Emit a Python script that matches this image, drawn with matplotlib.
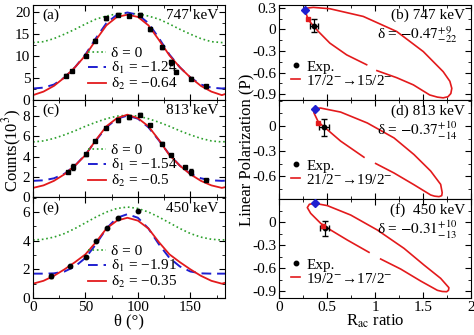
import matplotlib
matplotlib.use("Agg")
import matplotlib.pyplot as plt
from matplotlib.lines import Line2D
from matplotlib.ticker import MultipleLocator, FixedLocator

plt.rcParams['font.family'] = ['Liberation Serif', 'DejaVu Serif']
plt.rcParams['mathtext.fontset'] = 'stix'
plt.rcParams['font.size'] = 11

# ---------- angular distributions (left column) ----------
theta_fit = [0, 10, 20, 30, 40, 50, 60, 70, 80, 90, 100, 110, 120, 130, 140, 150, 160, 170, 180, 190]

theta_a = [31.8, 37.6, 50.2, 58.8, 70.0, 81.0, 91.5, 101.7, 111.2, 123.4, 131.9, 136.7, 151.0, 165.3]
counts_a = [5.5, 6.6, 10.0, 13.4, 18.5, 19.3, 19.1, 19.3, 16.0, 11.9, 8.5, 6.4, 4.8, 3.1]
err_a = [0.3, 0.3, 0.3, 0.3, 0.3, 0.3, 0.3, 0.3, 0.3, 0.3, 0.6, 0.3, 0.3, 0.3]
d0_a = [13.0, 13.2, 13.9, 14.9, 16.0, 17.2, 18.3, 19.0, 19.5, 19.6, 19.5, 19.0, 18.3, 17.2, 16.0, 14.9, 13.9, 13.2, 13.0, 13.2]
d1_a = [2.6, 2.8, 3.5, 5.1, 7.4, 10.3, 14.0, 17.4, 19.3, 19.8, 19.3, 17.4, 14.0, 10.3, 7.4, 5.1, 3.5, 2.8, 2.6, 2.8]
d2_a = [1.1, 1.9, 3.2, 5.1, 7.4, 10.1, 13.6, 16.9, 18.8, 19.3, 18.8, 16.9, 13.6, 10.1, 7.4, 5.1, 3.2, 1.9, 1.1, 1.9]

theta_c = [33.4, 38.1, 50.2, 58.8, 70.0, 81.0, 91.5, 101.7, 111.2, 123.4, 131.9, 144.6, 151.0, 165.3]
counts_c = [2.5, 2.95, 4.25, 5.5, 6.85, 7.6, 7.9, 8.15, 7.1, 5.25, 4.2, 2.95, 2.45, 1.65]
err_c = [0.1, 0.3, 0.15, 0.1, 0.1, 0.15, 0.15, 0.15, 0.1, 0.15, 0.1, 0.1, 0.3, 0.1]
d0_c = [5.45, 5.55, 5.8, 6.15, 6.55, 7.0, 7.4, 7.75, 8.0, 8.1, 8.0, 7.75, 7.4, 7.0, 6.55, 6.15, 5.8, 5.55, 5.45, 5.55]
d1_c = [1.6, 1.65, 1.85, 2.3, 3.1, 4.2, 5.6, 6.9, 7.75, 8.05, 7.75, 6.9, 5.6, 4.2, 3.1, 2.3, 1.85, 1.65, 1.6, 1.65]
d2_c = [0.9, 1.15, 1.6, 2.25, 3.1, 4.15, 5.65, 7.0, 7.8, 8.15, 7.8, 7.0, 5.65, 4.15, 3.1, 2.25, 1.6, 1.15, 0.9, 1.15]

theta_e = [17.5, 35.0, 50.9, 60.4, 70.5, 81.0, 100.1]
counts_e = [1.55, 2.2, 2.85, 4.0, 4.87, 5.57, 6.08]
err_e = [0.15, 0.05, 0.05, 0.05, 0.05, 0.05, 0.05]
d0_e = [4.05, 4.1, 4.25, 4.5, 4.85, 5.25, 5.65, 6.0, 6.25, 6.35, 6.25, 6.0, 5.65, 5.25, 4.85, 4.5, 4.25, 4.1, 4.05, 4.1]
d1_e = [1.7, 1.7, 1.72, 1.85, 2.2, 2.8, 3.75, 4.85, 5.6, 5.85, 5.6, 4.85, 3.75, 2.8, 2.2, 1.85, 1.72, 1.7, 1.7, 1.7]
d2_e = [1.0, 1.2, 1.55, 2.0, 2.5, 3.05, 3.9, 4.85, 5.4, 5.6, 5.4, 4.85, 3.9, 3.05, 2.5, 2.0, 1.55, 1.2, 1.0, 1.2]

# ---------- polarization vs R_ac (right column) ----------
R_b = [0.913, 0.705, 0.53, 0.41, 0.32, 0.30, 0.27, 0.30, 0.357, 0.53, 0.878, 1.226, 1.503, 1.71, 1.78, 1.80, 1.79, 1.76, 1.71, 1.65, 1.57, 1.40, 1.226, 1.02]
P_b = [-0.49, -0.353, -0.19, -0.028, 0.11, 0.15, 0.274, 0.298, 0.307, 0.288, 0.181, -0.028, -0.307, -0.586, -0.72, -0.818, -0.89, -0.935, -0.95, -0.94, -0.91, -0.77, -0.67, -0.572]
R_d = [0.885, 0.642, 0.503, 0.41, 0.365, 0.358, 0.434, 0.642, 0.92, 1.198, 1.406, 1.58, 1.684, 1.70, 1.695, 1.667, 1.62, 1.58, 1.406, 1.198, 1.007]
P_d = [-0.372, -0.18, -0.043, 0.047, 0.154, 0.206, 0.214, 0.166, 0.036, -0.142, -0.34, -0.537, -0.696, -0.795, -0.83, -0.842, -0.836, -0.822, -0.70, -0.56, -0.447]
R_f = [0.9375, 0.712, 0.538, 0.434, 0.33, 0.295, 0.316, 0.372, 0.503, 0.747, 1.024, 1.302, 1.51, 1.684, 1.77, 1.765, 1.747, 1.70, 1.65, 1.476, 1.268, 1.059]
P_f = [-0.395, -0.235, -0.104, -0.017, 0.113, 0.188, 0.231, 0.244, 0.214, 0.091, -0.104, -0.343, -0.56, -0.734, -0.856, -0.89, -0.908, -0.905, -0.89, -0.769, -0.613, -0.482]

# delta=0 point (blue), best delta (red), experiment
blue_pts = [(0.27, 0.274), (0.37, 0.205), (0.372, 0.244)]
red_pts = [(0.30, 0.15), (0.41, 0.036), (0.46, -0.047)]
exp_R = [0.365, 0.47, 0.476]
exp_P = [0.05, -0.016, -0.082]
exp_Rerr = [0.045, 0.05, 0.05]
exp_Perr = [0.09, 0.1, 0.1]

W, H = 474, 335
fig = plt.figure(figsize=(W / 100, H / 100), dpi=100)


def px_axes(x0, y0, x1, y1):
    return fig.add_axes([x0 / W, 1 - y1 / H, (x1 - x0) / W, (y1 - y0) / H])


def style(ax):
    ax.tick_params(direction='in', which='both', top=True, right=True, labelsize=11, pad=2)
    ax.tick_params(which='major', length=4)
    ax.tick_params(which='minor', length=2)


left_boxes = [(33, 5, 225, 100), (33, 100, 225, 197), (33, 197, 225, 298)]
right_boxes = [(279, 5, 471, 100), (279, 100, 471, 199), (279, 199, 471, 298)]

left_data = [
    (theta_a, counts_a, err_a, d0_a, d1_a, d2_a, 21.5, 5, '(a)', '747 keV', '−1.24', '−0.64', 's'),
    (theta_c, counts_c, err_c, d0_c, d1_c, d2_c, 9.6, 2, '(c)', '813 keV', '−1.54', '−0.5', 's'),
    (theta_e, counts_e, err_e, d0_e, d1_e, d2_e, 7.05, 2, '(e)', '450 keV', '−1.91', '−0.35', 'o'),
]

left_axes = []
for box, (th, cnt, er, d0, d1, d2, ytop, ystep, tag, energy, dl1, dl2, mk) in zip(left_boxes, left_data):
    ax = px_axes(*box)
    l0, = ax.plot(theta_fit, d0, color='#2ca02c', ls=':', lw=1.2)
    l1, = ax.plot(theta_fit, d1, color='#1f1fd0', ls=(0, (5, 3)), lw=1.4)
    l2, = ax.plot(theta_fit, d2, color='#e31a1c', ls='-', lw=1.3)
    ax.errorbar(th, cnt, yerr=er, fmt=mk, ms=3.2, color='black', ecolor='black',
                elinewidth=0.8, capsize=1.5, zorder=5)
    ax.set_xlim(0, 183)
    ax.set_ylim(0, ytop)
    ax.xaxis.set_major_locator(MultipleLocator(50))
    ax.xaxis.set_minor_locator(MultipleLocator(25))
    ax.yaxis.set_major_locator(MultipleLocator(ystep))
    ax.yaxis.set_minor_locator(MultipleLocator(ystep / 2))
    style(ax)
    ax.text(0.05, 0.89, tag, transform=ax.transAxes, ha='left', va='center', fontsize=11)
    ax.text(0.965, 0.89, energy, transform=ax.transAxes, ha='right', va='center', fontsize=11)
    ax.legend([l0, l1, l2], ['δ = 0', 'δ$_1$ = ' + dl1, 'δ$_2$ = ' + dl2],
              loc='lower left', bbox_to_anchor=(0.23, -0.03), frameon=False,
              handlelength=1.2, handletextpad=0.3, labelspacing=0.0,
              borderpad=0.2, fontsize=11)
    left_axes.append(ax)

for ax in left_axes[:2]:
    ax.tick_params(labelbottom=False)
left_axes[2].set_xlabel('θ (°)', fontsize=12, labelpad=0)
fig.text(12 / W, 1 - 150 / H, 'Counts(10$^3$)', rotation=90, ha='center', va='center', fontsize=12)

right_data = [
    (R_b, P_b, -0.98, 0.34, [0.3, 0, -0.3, -0.6, -0.9], '(b) 747 keV', '$-0.47^{+9}_{-22}$', '17/2$^{-}$→15/2$^{-}$'),
    (R_d, P_d, -0.87, 0.31, [0, -0.3, -0.6], '(d) 813 keV', '$-0.37^{+10}_{-14}$', '21/2$^{-}$→19/2$^{-}$'),
    (R_f, P_f, -0.99, 0.30, [0, -0.3, -0.6, -0.9], '(f)  450 keV', '$-0.31^{+10}_{-13}$', '19/2$^{-}$→17/2$^{-}$'),
]

right_axes = []
for i, (box, (R, P, ylo, yhi, yt, title, dtxt, trans)) in enumerate(zip(right_boxes, right_data)):
    ax = px_axes(*box)
    line, = ax.plot(R, P, color='#e31a1c', lw=1.2)
    ax.plot(*blue_pts[i], marker='D', ms=4.5, color='#1f1fd0', zorder=6)
    ax.plot(*red_pts[i], marker='s', ms=3.5, color='#e31a1c', zorder=6)
    ax.errorbar(exp_R[i], exp_P[i], xerr=exp_Rerr[i], yerr=exp_Perr[i], fmt='o', ms=3.2,
                color='black', elinewidth=0.9, capsize=2, zorder=5)
    ax.set_xlim(0, 2)
    ax.set_ylim(ylo, yhi)
    ax.xaxis.set_major_locator(MultipleLocator(0.5))
    ax.xaxis.set_minor_locator(MultipleLocator(0.25))
    ax.yaxis.set_major_locator(FixedLocator(yt))
    ax.yaxis.set_minor_locator(MultipleLocator(0.15))
    ax.set_yticklabels(['0' if v == 0 else ('%.1f' % v) for v in yt])
    style(ax)
    ax.text(0.97, 0.89, title, transform=ax.transAxes, ha='right', va='center', fontsize=11)
    ax.text(0.93, 0.69, 'δ = ' + dtxt, transform=ax.transAxes, ha='right', va='center', fontsize=11)
    exp_handle = Line2D([], [], ls='none', marker='o', ms=3.2, color='black')
    ax.legend([exp_handle, line], ['Exp.', trans], loc='lower left', bbox_to_anchor=(0.0, 0.0),
              frameon=False, handlelength=0.6, handletextpad=0.4, labelspacing=0.0,
              borderpad=0.3, fontsize=11)
    right_axes.append(ax)

for ax in right_axes[:2]:
    ax.tick_params(labelbottom=False)
right_axes[2].set_xticks([0, 0.5, 1, 1.5, 2])
right_axes[2].set_xticklabels(['0', '0.5', '1', '1.5', '2'])
right_axes[2].set_xlabel('R$_{\\mathrm{ac}}$ ratio', fontsize=12, labelpad=-1)
fig.text(246 / W, 1 - 150 / H, 'Linear Polarization (P)', rotation=90, ha='center', va='center', fontsize=12)

fig.savefig('out.png', dpi=100)
